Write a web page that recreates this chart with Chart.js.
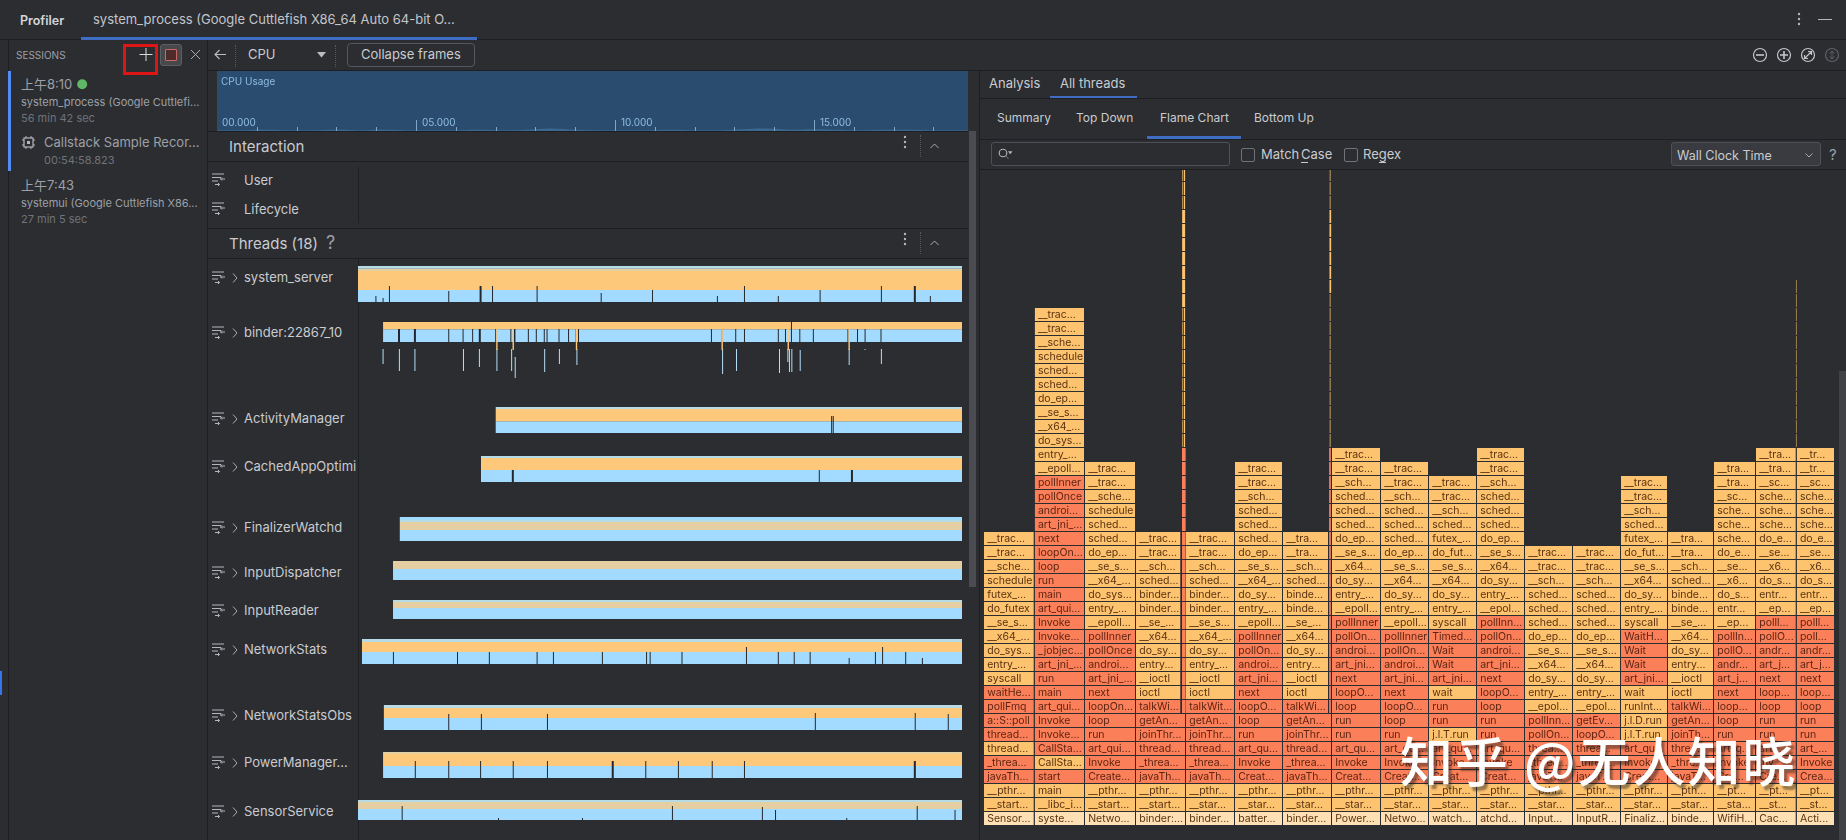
<!DOCTYPE html>
<html><head><meta charset="utf-8">
<style>
html,body{margin:0;padding:0;width:1846px;height:840px;overflow:hidden;background:#2b2d30;font-family:Inter,'Noto Sans CJK SC',sans-serif;color:#bcbec4}
#ui{position:absolute;left:0;top:0;width:1846px;height:840px}
.t{position:absolute;white-space:nowrap;transform:translateY(-50%);line-height:1.2}
.r{position:absolute}
canvas{position:absolute;display:block}
svg{position:absolute;overflow:visible}
</style></head><body>
<div id="ui"></div>
<canvas id="cpu" width="751" height="60" style="left:217px;top:71px;width:751px;height:60px"></canvas>
<canvas id="threads" width="604" height="578" style="left:358px;top:262px;width:604px;height:578px"></canvas>
<canvas id="flame" width="851" height="655" style="left:984px;top:170px;width:851px;height:655px"></canvas>
<div id="wm" class="t" style="left:1400px;top:760px;font-size:53px;font-weight:500;color:#fff;text-shadow:3px 4px 2px rgba(30,30,30,.45);font-family:'Noto Sans CJK SC';letter-spacing:2px">知乎 @无人知晓</div>
<script src="https://cdn.jsdelivr.net/npm/chart.js@4/dist/chart.umd.min.js"></script>
<script>
/* ---------- CPU usage ---------- */
const cpuSeconds=[0,0.6,1.2,1.8,2.4,3,3.6,4.2,4.8,5.4,6,6.6,7.2,7.8,8.4,9,9.6,10.2,10.8,11.4,12,12.6,13.2,13.8,14.4,15,15.6,16.2,16.8,17.4,18,18.87];
const cpuUsage=[1,1,2,1,1,2,1,2,1,1,1,2,1,2,4,2,1,1,1,2,1,1,3,4,2,3,2,1,2,2,1,1];
const cpuTickLabels=['00.000','05.000','10.000','15.000'];

/* ---------- Thread tracks (seconds, running / sleeping) ---------- */
const threadNames=['system_server','binder:22867_10','ActivityManager','CachedAppOptimi','FinalizerWatchd','InputDispatcher','InputReader','NetworkStats','NetworkStatsObs','PowerManager...','SensorService'];
const threadStartSec=[0,0.63,3.46,3.09,1.05,0.88,0.88,0.1,0.65,0.63,0];
const captureEndSec=15.175;
const systemServerGaps=[[0.45,6],[0.63,4],[0.79,16],[2.28,11],[3.08,16],[3.38,16],[4.5,16],[6.11,9],[7.4,12],[9.03,6],[9.71,16],[10.56,6],[11.61,12],[13.15,16],[13.99,16],[14.38,6]];
const binderGaps=[[1.03,13],[1.43,13],[2.28,13],[2.64,13],[2.88,13],[3.06,13],[3.46,13],[3.84,13],[3.93,13],[4.28,13],[4.48,13],[4.68,13],[4.75,13],[5.05,13],[5.29,13],[5.48,13],[5.54,13],[8.88,13],[9.15,13],[9.49,13],[9.71,13],[10.56,13],[10.74,13],[10.89,20],[11.1,13],[11.44,13],[12.31,13],[12.55,13],[12.74,13],[13.14,13]];
const binderBursts=[[3.49,21],[3.9,21],[5.49,21],[9.15,21],[10.81,21],[12.34,21]];
const binderStackTicks=[[0.63,349,364],[1.04,349,371],[1.43,349,371],[2.65,349,371],[3.05,349,367],[3.49,349,371],[3.86,349,371],[3.95,357,378],[4.69,349,372],[5.06,349,364],[5.5,349,365],[9.16,349,374],[9.51,349,371],[10.59,349,373],[10.8,349,362],[10.84,349,372],[10.9,349,372],[11.11,350,371],[12.34,349,365],[12.74,349,350],[13.15,349,364]];
const activityGaps=[[11.9,17],[11.94,17]];
const cachedGaps=[[3.89,12],[11.59,12],[12.41,12]];
const networkStatsGaps=[[0.89,12],[2.5,12],[3.3,12],[4.5,12],[4.91,12],[6.14,12],[7.25,12],[7.34,12],[8.14,12],[9.76,17],[10.56,12],[10.96,12],[11.36,12],[12.34,6],[13,12],[13.18,17],[13.76,12],[14.18,6]];
const networkObsGaps=[[2.28,16],[3.1,16],[4.76,16],[11.49,17],[14,17],[14.83,16]];
const powerGaps=[[1.44,17],[2.28,17],[3.08,17],[3.9,17],[4.76,17],[6.4,17],[7.23,17],[8.05,17],[8.9,17],[9.71,17],[13.99,17]];
const sensorGaps=[[1.11,14],[3.53,2],[5.64,2],[7.9,14],[10.16,13],[10.49,10],[12.28,2],[14.05,14],[15,10]];
const threadGaps=[systemServerGaps,binderGaps,activityGaps,cachedGaps,[],[],[],networkStatsGaps,networkObsGaps,powerGaps,sensorGaps];

/* ---------- Flame chart (duration per root frame, frames bottom-up, * = app code) ---------- */
const rootDurations=[50.7,50.3,51,50,49,48,49,49,48,48,48,48,48,47,46,42,40.7,38.3];
const sensorStack=['Sensor...','__start...','__pthr...','javaTh...*','_threa...*','thread...','thread...*','a::S::poll*','pollFmq*','waitHe...*','syscall','entry_...','do_sys...','__x64_...','__se_s...','do_futex','futex_...','schedule','__sche...','__trac...','__trac...'];
const systemStack=['syste...','__libc_i...','main','start*','CallSta...','CallSta...*','Invoke...*','Invoke*','art_qui...*','main*','run*','art_jni_...*','_jobjec...*','Invoke...*','Invoke*','art_qui...*','main*','run*','loop*','loopOn...*','next*','art_jni_...*','androi...*','pollOnce*','pollInner*','__epoll...','entry_...','do_sys...','__x64_...','__se_s...','do_ep...','sched...','sched...','schedule','__sche...','__trac...','__trac...'];
const netStack1=['Netwo...','__start...','__pthr...','Create...*','Invoke*','art_qui...*','run*','loop*','loopOn...*','next*','art_jni_...*','androi...*','pollOnce*','pollInner*','__epoll...','entry_...','do_sys...','__x64_...','__se_s...','do_ep...','sched...','sched...','schedule','__sche...','__trac...','__trac...'];
const binderStack1=['binder:...','__start...','__pthr...','javaTh...*','_threa...*','thread...*','joinThr...*','getAn...*','talkWi...*','ioctl','__ioctl','entry...','do_sy...','__x64...','__se_...','binder...','binder...','sched...','__sch...','__trac...','__trac...'];
const binderStack2=['binder...','__star...','__pthr...','javaTh...*','_threa...*','thread...*','joinThr...*','getAn...*','talkWit...*','ioctl','__ioctl','entry_...','do_sy...','__x64_...','__se_s...','binder...','binder...','sched...','__sch...','__trac...','__trac...'];
const batteryStack=['batter...','__star...','__pthr...','Creat...*','Invoke*','art_qu...*','run*','loop*','loopO...*','next*','art_jni...*','androi...*','pollOn...*','pollInner*','__epoll...','entry_...','do_sy...','__x64_...','__se_s...','do_ep...','sched...','sched...','sched...','__sch...','__trac...','__trac...'];
const binderStack3=['binder...','__star...','__pthr...','javaTh...*','_threa...*','thread...*','joinThr...*','getAn...*','talkWi...*','ioctl','__ioctl','entry...','do_sy...','__x64...','__se_...','binde...','binde...','sched...','__sch...','__tra...','__tra...'];
const powerStack=['Power...','__star...','__pthr...','Creat...*','Invoke*','art_qu...*','run*','run*','loop*','loopO...*','next*','art_jni...*','androi...*','pollOn...*','pollInner*','__epoll...','entry_...','do_sy...','__x64...','__se_s...','do_ep...','sched...','sched...','sched...','__sch...','__trac...','__trac...'];
const netStack2=['Netwo...','__star...','__pthr...','Creat...*','Invoke*','art_qu...*','run*','loop*','loopO...*','next*','art_jni...*','androi...*','pollOn...*','pollInner*','__epoll...','entry_...','do_sy...','__x64...','__se_s...','do_ep...','sched...','sched...','sched...','__sch...','__trac...','__trac...'];
const watchStack=['watch...','__star...','__pthr...','Creat...*','Invoke*','art_qu...*','j.l.T.run','run*','run*','wait','art_jni...*','Wait*','Wait*','Timed...*','syscall','entry_...','do_sy...','__x64...','__se_s...','do_fut...','futex_...','sched...','__sch...','__trac...','__trac...'];
const atchdStack=['atchd...','__star...','__pthr...','Creat...*','Invoke*','art_qu...*','run*','run*','loop*','loopO...*','next*','art_jni...*','androi...*','pollOn...*','pollInn...*','__epol...','entry_...','do_sy...','__x64...','__se_s...','do_ep...','sched...','sched...','sched...','__sch...','__trac...','__trac...'];
const inputStack=['Input...','__star...','__pthr...','javaT...*','_threa...*','threa...*','pollOn...*','pollInn...*','__epol...','entry_...','do_sy...','__x64...','__se_s...','do_ep...','sched...','sched...','sched...','__sch...','__trac...','__trac...'];
const inputReaderStack=['InputR...','__star...','__pthr...','javaT...*','_threa...*','threa...*','loopO...*','getEv...*','__epol...','entry_...','do_sy...','__x64...','__se_s...','do_ep...','sched...','sched...','sched...','__sch...','__trac...','__trac...'];
const finalizerStack=['Finaliz...','__star...','__pthr...','Creat...*','Invoke*','art_qu...*','j.l.T.run','j.l.D.run','runInt...','wait','art_jni...*','Wait*','Wait*','WaitH...*','syscall','entry_...','do_sy...','__x64...','__se_s...','do_fut...','futex_...','sched...','__sch...','__trac...','__trac...'];
const binderStack4=['binde...','__star...','__pth...','javaT...*','_thre...*','threa...*','joinTh...*','getAn...*','talkWi...*','ioctl','__ioctl','entry...','do_sy...','__x64...','__se_...','binde...','binde...','sched...','__sch...','__tra...','__tra...'];
const wifiStack=['WifiH...','__sta...','__pt...','Cre...*','Invoke*','art_q...*','run*','loop*','loop...*','next*','art_j...*','andr...*','pollO...*','pollIn...*','__ep...','entr...','do_s...','__x6...','__se...','do_e...','sche...','sche...','sche...','__sc...','__tra...','__tra...'];
const cachedStack=['Cac...','__st...','__pt...','Cre...*','Inv...*','art...*','run*','run*','loop*','loop...*','next*','art_j...*','andr...*','pollO...*','polll...*','__ep...','entr...','do_s...','__x6...','__se...','do_e...','sche...','sche...','sche...','__sc...','__tra...','__tra...'];
const activityStack=['Acti...','__st...','__pt...','Crea...*','Invoke*','art_...*','run*','run*','loop*','loop...*','next*','art_j...*','andr...*','poll...*','polll...*','__ep...','entr...','do_s...','__x6...','__se...','do_e...','sche...','sche...','sche...','__sc...','__tr...','__tr...'];
const rootStacks=[sensorStack,systemStack,netStack1,binderStack1,binderStack2,batteryStack,binderStack3,powerStack,netStack2,watchStack,atchdStack,inputStack,inputReaderStack,finalizerStack,binderStack4,wifiStack,cachedStack,activityStack];
/* a few very short calls: [root index, offset, duration, first depth, last depth, kind] */
const shortCalls=[[3,46,3.8,8,26,'app'],[3,46.2,1.3,27,46,'native'],[3,48,1.3,27,46,'native'],[3,46.2,3,37,43,'native'],[6,46,2,8,26,'appDim'],[6,46.5,1.2,27,46,'native'],[6,46.4,2,38,43,'native'],[16,39.8,0.9,27,38,'native']];
/* short calls shorten these frames: [root index, from depth, remaining duration] */
const trimmedFrames=[[3,8,45.3],[6,8,46]];

/* ---------- Layout and style, separate from the values ---------- */
const COLORS={native:'#fec36f',app:'#fb7f59',appDim:'#d9745e',root:'#ffe0b4',gap:'#2b2d30',asleep:'#a2dbff',run:'#fec87b',mist:'#b7dbe4',tan:'#e3cfa2',tick:'#24282c'};
const trackBands=[
 [[266,268.7,'mist'],[268.7,271,'tan'],[271,290,'run'],[290,302,'asleep']],
 [[322,329.3,'run'],[329.3,342,'asleep']],
 [[407,409,'mist'],[409,421.3,'run'],[421.3,433,'asleep']],
 [[456,458,'mist'],[458,470,'run'],[470,482,'asleep']],
 [[517,520,'asleep'],[520,522,'mist'],[522,530,'tan'],[530,541,'asleep']],
 [[561,563,'tan'],[563,569,'tan'],[569,580,'asleep']],
 [[600,602,'mist'],[602,608,'tan'],[608,619,'asleep']],
 [[639,642,'mist'],[642,652,'run'],[652,664,'asleep']],
 [[705,708,'mist'],[708,718,'run'],[718,730,'asleep']],
 [[752,754,'tan'],[754,766,'run'],[766,778,'asleep']],
 [[800,802,'mist'],[802,809,'tan'],[809,820,'asleep']]];
const trackLabelY=[278,333,419,467,528,573,611,650,716,763,812];
const thickGaps=new Set(['0:3.08','0:13.99','1:3.06','1:3.93','1:1.03','1:1.43','3:3.89','3:12.41','9:6.4','9:13.99']);

/* ---------- UI chrome ---------- */
const ui=document.getElementById('ui');
function T(s,x,y,size,color,extra){const d=document.createElement('div');d.className='t';d.textContent=s;d.style.cssText=`left:${x}px;top:${y}px;font-size:${size}px;color:${color};`+(extra||'');ui.appendChild(d);return d}
function R(x,y,w,h,bg,extra){const d=document.createElement('div');d.className='r';d.style.cssText=`left:${x}px;top:${y}px;width:${w}px;height:${h}px;background:${bg};`+(extra||'');ui.appendChild(d);return d}
function S(x,y,w,h,inner){const s=document.createElementNS('http://www.w3.org/2000/svg','svg');s.setAttribute('width',w);s.setAttribute('height',h);s.style.left=x+'px';s.style.top=y+'px';s.innerHTML=inner;ui.appendChild(s)}
const LINE='#1e1f22',TXT='#c9cbd1',DIM='#70737a',MID='#9da0a8',BLUE='#3f6dc4';
R(0,39,1846,1,LINE);R(207,70,1639,1,LINE);R(8,40,1,800,LINE);R(207,40,1,800,LINE);R(979,70,1,770,LINE);
R(0,671,2,24,'#3574f0');
T('Profiler',20,19.5,12.5,'#d4d6db','font-weight:600');
T('system_process (Google Cuttlefish X86_64 Auto 64-bit O...',93,19.5,13,'#c4c6cc');
R(81,37,396,3,BLUE);
function dots(x,y){S(x-2,y-6,4,14,`<circle cx="2" cy="0" r="1.2" fill="#b4b6bc"/><circle cx="2" cy="5" r="1.2" fill="#b4b6bc"/><circle cx="2" cy="10" r="1.2" fill="#b4b6bc"/>`)}
dots(1798.5,20);R(1818,18.5,14,1.5,'#b4b6bc');
T('SESSIONS',16,55,10,MID);
S(139,48,14,14,'<path d="M7 0V13M0.5 6.5H13.5" stroke="#d8dade" stroke-width="1"/>');
R(123,43.5,35,31,'transparent','border:3px solid #dd1515;box-sizing:border-box');
R(160,44,22,22,'#47484c','border-radius:3px;border:1px solid #5c5e63;box-sizing:border-box');
R(165,49,12,12,'#4e2a28','border:1.2px solid #c96a66;box-sizing:border-box;border-radius:1px');
S(190,49,11,11,'<path d="M1 1L10 10M10 1L1 10" stroke="#a9abb1" stroke-width="1"/>');
S(214,49,13,11,'<path d="M12 5.5H1M5.5 1L1 5.5L5.5 10" stroke="#bbbdc2" fill="none" stroke-width="1.1"/>');
R(235,45,1,22,'transparent','border-left:1px dotted #55585e');R(335,45,1,22,'transparent','border-left:1px dotted #55585e');
T('CPU',248,55,13,TXT);
S(317,52,10,6,'<path d="M0 0H9L4.5 5.5Z" fill="#bbbdc2"/>');
R(347,43,128,24,'transparent','border:1px solid #55585e;border-radius:4px;box-sizing:border-box');
T('Collapse frames',361,55,13,TXT);
R(8,71,3,100,'#548af7');
T('上午8:10',21,85,13,MID);
S(77,79,11,11,'<circle cx="5.2" cy="5.2" r="5" fill="#5fb865"/>');
T('system_process (Google Cuttlefi...',21,102.5,11,MID);
T('56 min 42 sec',21,118.5,11,DIM);
S(22,136,13,13,'<rect x="2" y="2" width="9" height="9" fill="none" stroke="#b4b6bc" stroke-width="1.2"/><rect x="5" y="5" width="3" height="3" fill="#b4b6bc"/><path d="M4 0V2M9 0V2M4 11V13M9 11V13M0 4H2M0 9H2M11 4H13M11 9H13" stroke="#b4b6bc"/>');
T('Callstack Sample Recor...',44,142.5,13,MID);
T('00:54:58.823',44,160.5,11,DIM);
T('上午7:43',21,186,13,MID);
T('systemui (Google Cuttlefish X86...',21,203.5,11,MID);
T('27 min 5 sec',21,219.5,11,DIM);
/* middle panel */
R(208,161,760,1,LINE);R(208,228,760,1,LINE);R(208,258,760,1,LINE);R(208,131,760,1,LINE);
T('Interaction',229,147,15,TXT);
T('Threads (18)',229,244,15,TXT);T('?',326,243,18,MID);
[146,243].forEach(y=>{dots(905,y-3);R(920,y-11,1,22,'transparent','border-left:1px dotted #55585e');
 S(930,y-3,10,6,'<path d="M0.5 5L4.5 1L8.5 5" fill="none" stroke="#a9abb1"/>')});
R(358,167,1,56,LINE);R(358,259,1,581,LINE);
R(969,131,7,456,'#4a4c51');
const filterIcon='<path d="M0 1H12M0 4.5H9M0 8H6" stroke="#b4b6bc" stroke-width="1"/><path d="M13 6H8.5M10 4.5L8.5 6L10 7.5M3 11.5H7.5M6 10L7.5 11.5L6 13" stroke="#b4b6bc" fill="none" stroke-width="1"/>';
function filter(y){S(212,y-7,14,14,filterIcon)}
filter(180);T('User',244,180.5,13,TXT);filter(209);T('Lifecycle',244,209.5,13,TXT);
threadNames.forEach((n,i)=>{const y=trackLabelY[i];filter(y);
 S(232,y-5,6,10,'<path d="M1 0.5L5 5L1 9.5" fill="none" stroke="#a9abb1"/>');
 const d=T(n,244,y,13,TXT,'width:113px;overflow:hidden;');});
/* right panel */
T('Analysis',989,84,13,TXT);T('All threads',1060,84,13,TXT);R(1050,96,87,2.5,BLUE);R(980,98,866,1,LINE);
T('Summary',997,118,12,TXT);T('Top Down',1076,118,12,TXT);T('Flame Chart',1160,118,12,TXT);T('Bottom Up',1254,118,12,TXT);
R(1147,136,94,3,BLUE);R(980,139,866,1,LINE);
R(991,142,239,24,'transparent','border:1px solid #4e5157;border-radius:3px;box-sizing:border-box');
S(998,148,14,12,'<circle cx="5" cy="5" r="3.8" fill="none" stroke="#b4b6bc" stroke-width="1.1"/><path d="M8 8L10.5 11M10.5 3.5H14L12.2 6Z" stroke="#b4b6bc" fill="#b4b6bc" stroke-width=".5"/>');
R(1241,148,14,14,'transparent','border:1px solid #6f737a;border-radius:2px;box-sizing:border-box');
T('Match ',1261,154.5,13,TXT);T('Case',1301,154.5,13,TXT);R(1301,162,7,1,TXT);
R(1344,148,14,14,'transparent','border:1px solid #6f737a;border-radius:2px;box-sizing:border-box');
T('Regex',1363,154.5,13,TXT);R(1379,162,7,1,TXT);
R(1671,142,150,24,'#393b40','border:1px solid #4e5157;border-radius:3px;box-sizing:border-box');
T('Wall Clock Time',1677,154.5,12.5,TXT);
S(1805,153,8,5,'<path d="M0.5 0.5L4 4L7.5 0.5" fill="none" stroke="#a9abb1"/>');
T('?',1829,154.5,15,MID);
R(980,169,866,1,LINE);
R(1839,371,7,469,'#404246');
[[1760,'<path d="M3 7H11" stroke="#c4c6cc" stroke-width="1.6"/>',1],[1784,'<path d="M3 7H11M7 3V11" stroke="#c4c6cc" stroke-width="1.6"/>',1],[1808,'<path d="M4 10L10 4M7 3.5H10.5V7M3.5 7V10.5H7" stroke="#c4c6cc" fill="none" stroke-width="1.2"/>',1],[1832,'<path d="M7 3V11M4.5 5.5L7 3L9.5 5.5M4.5 8.5L7 11L9.5 8.5" stroke="#5f6166" fill="none"/>',0]].forEach(a=>{
 S(a[0]-7,48,14,14,`<circle cx="7" cy="7" r="6.5" fill="none" stroke="${a[2]?'#c4c6cc':'#5f6166'}" stroke-width="1.2"/>`+a[1])});

/* ---------- Charts ---------- */
const base={responsive:false,animation:false,events:[],devicePixelRatio:1,layout:{padding:0},plugins:{legend:{display:false},tooltip:{enabled:false}}};

/* CPU */
new Chart(document.getElementById('cpu'),{type:'line',
 data:{datasets:[{data:cpuSeconds.map((t,i)=>({x:t,y:cpuUsage[i]})),fill:'origin',backgroundColor:'#3d6990',borderWidth:0,pointRadius:0,tension:.35}]},
 options:{...base,scales:{x:{type:'linear',min:0,max:18.87,display:false,offset:false},y:{min:0,max:100,display:false}}},
 plugins:[{id:'cpuBg',beforeDraw(c){const g=c.ctx;g.fillStyle='#2a4d6f';g.fillRect(0,0,c.width,c.height)},
  afterDraw(c){const g=c.ctx,sx=c.scales.x,h=c.chartArea.bottom;g.save();g.strokeStyle='#7ea6c7';g.fillStyle='#8fbde0';g.lineWidth=1;
   g.font='10px Inter';g.textBaseline='middle';
   for(let s=1;s<=18;s++){const p=Math.round(sx.getPixelForValue(s))+.5;const tall=s%5===0;g.beginPath();g.moveTo(p,h);g.lineTo(p,h-(tall?11:4));g.stroke()}
   cpuTickLabels.forEach((l,i)=>g.fillText(l,sx.getPixelForValue(i*5)+(i?6:5),h-8));
   g.fillText('CPU Usage',4,10.5);g.restore()}}]});

/* Threads */
const tds=[];
threadNames.forEach((n,i)=>{
 const bands=trackBands[i],start=threadStartSec[i],bottom=bands[bands.length-1][1];
 bands.forEach(b=>tds.push({type:'bar',indexAxis:'y',grouped:false,order:3,barThickness:b[1]-b[0],backgroundColor:COLORS[b[2]],inflateAmount:0,borderWidth:0,
   data:[{x:[start,captureEndSec],y:(b[0]+b[1])/2}]}));
 const thin=[],thick=[];
 threadGaps[i].forEach(g=>(thickGaps.has(i+':'+g[0])?thick:thin).push({x:g[0],y:[bottom,bottom-g[1]]}));
 if(thin.length)tds.push({type:'bar',indexAxis:'x',grouped:false,order:1,barThickness:1,backgroundColor:COLORS.tick,inflateAmount:0,borderWidth:0,data:thin});
 if(thick.length)tds.push({type:'bar',indexAxis:'x',grouped:false,order:1,barThickness:2,backgroundColor:COLORS.tick,inflateAmount:0,borderWidth:0,data:thick});
});
tds.push({type:'bar',indexAxis:'x',grouped:false,order:0,barThickness:1.4,backgroundColor:COLORS.run,inflateAmount:0,borderWidth:0,data:binderBursts.map(b=>({x:b[0],y:[329,329+b[1]]}))});
tds.push({type:'bar',indexAxis:'x',grouped:false,order:1,barThickness:1,backgroundColor:'#b5dff8',inflateAmount:0,borderWidth:0,data:binderStackTicks.map(b=>({x:b[0],y:[b[1],b[2]]}))});
new Chart(document.getElementById('threads'),{type:'bar',data:{datasets:tds},
 options:{...base,indexAxis:'y',scales:{x:{type:'linear',offset:false,min:0,max:captureEndSec,display:false},y:{type:'linear',offset:false,min:262,max:840,reverse:true,display:false}}}});

/* Flame */
function frameOf(name,x0,x1,depth,kindOverride){const app=name.endsWith('*');const label=app?name.slice(0,-1):name;
 const kind=kindOverride||(depth===0?'root':app?'app':'native');return{x:[x0,x1],y:depth,label,kind}}
const flameData=[];let cursor=0;
rootStacks.forEach((stack,i)=>{const trim=trimmedFrames.find(t=>t[0]===i);
 stack.forEach((name,depth)=>{const dur=trim&&depth>=trim[1]?trim[2]:rootDurations[i];flameData.push(frameOf(name,cursor,cursor+dur,depth))});
 cursor+=rootDurations[i]});
shortCalls.forEach(c=>{const st=rootDurations.slice(0,c[0]).reduce((a,b)=>a+b,0)+c[1];
 for(let d=c[3];d<=c[4];d++)flameData.push({x:[st,st+c[2]],y:d,label:'',kind:c[5]})});
const flameRowPx=14,flameHeight=655;
new Chart(document.getElementById('flame'),{type:'bar',
 data:{datasets:[{data:flameData,grouped:false,barThickness:flameRowPx,inflateAmount:0,borderSkipped:false,
   backgroundColor:c=>COLORS[c.raw.kind],borderColor:COLORS.gap,
   borderWidth:c=>c.raw.x[1]-c.raw.x[0]<6?{top:1,right:0,bottom:0,left:0}:{top:1,right:1,bottom:0,left:0}}]},
 options:{...base,indexAxis:'y',scales:{x:{type:'linear',offset:false,min:0,max:rootDurations.reduce((a,b)=>a+b,0),display:false},
   y:{type:'linear',offset:false,min:-0.5,max:-0.5+flameHeight/flameRowPx,display:false}}},
 plugins:[{id:'frameLabels',afterDatasetsDraw(c){const g=c.ctx,m=c.getDatasetMeta(0);g.save();g.font='10.5px Inter';g.textBaseline='middle';g.textAlign='left';
   m.data.forEach((el,i)=>{const f=flameData[i];if(!f.label)return;g.fillStyle=f.kind==='app'?'#5e2412':'#5a3210';
     g.fillText(f.label,Math.min(el.base,el.x)+3.2,el.y+.8)});g.restore()}}]});
</script></body></html>
